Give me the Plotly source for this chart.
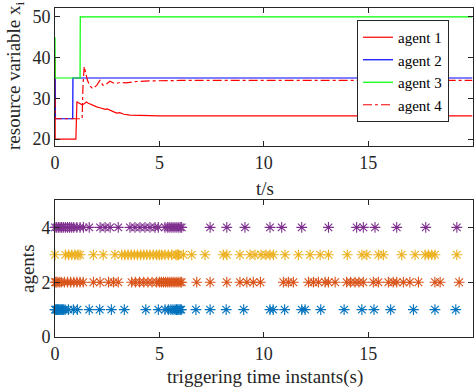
import plotly.graph_objects as go

# ---- top panel data (resource variables) ----
t_a1 = [0, 0.01, 1.0, 1.05, 1.1, 1.2, 1.3, 1.4, 1.5, 1.6, 1.8, 2.0, 2.15, 2.4, 2.5, 2.63, 2.8, 2.95, 3.1, 3.3, 3.6, 4.0, 5.0, 20]
v_a1 = [40, 20, 20, 29.2, 29.0, 28.6, 28.4, 28.7, 29.1, 28.8, 28.3, 27.9, 27.7, 27.3, 27.4, 27.1, 26.8, 26.4, 26.5, 26.1, 25.9, 25.8, 25.7, 25.7]

t_a2 = [0, 0.01, 0.85, 0.86, 20]
v_a2 = [35, 25, 25, 35, 35]

t_a3 = [0, 0.01, 1.2, 1.21, 20]
v_a3 = [45, 35, 35, 50, 50]

t_a4 = [0, 0.01, 1.3, 1.34, 1.4, 1.45, 1.55, 1.66, 1.8, 2.0, 2.15, 2.3, 2.45, 2.63, 2.87, 3.1, 3.4, 3.8, 4.5, 6.0, 20]
v_a4 = [30, 25, 25, 33.0, 37.8, 36.5, 34.5, 33.2, 32.4, 33.2, 34.4, 33.2, 33.5, 34.2, 33.6, 33.9, 33.8, 34.1, 34.3, 34.4, 34.4]

# ---- bottom panel data (triggering instants) ----
e_a1 = [0, 0.04, 0.08, 0.12, 0.16, 0.2, 0.25, 0.3, 0.35, 0.4, 0.48, 0.64, 0.88, 1.07, 1.64, 2.14, 2.7, 3.32,
        4.35, 4.95, 5.27, 5.43, 5.55, 5.65, 5.75, 5.82, 5.88, 5.94, 6.0, 6.05, 6.75, 7.43, 8.2, 9.04,
        10.3, 10.45, 11.0, 11.82, 11.98, 12.73, 13.85, 14.7, 15.28, 16.08, 17.17, 18.2, 19.2]
e_a2 = [0, 0.05, 0.1, 0.2, 0.3, 0.45, 0.6, 0.75, 0.9, 1.05, 1.2, 1.35, 1.84, 2.16, 2.56, 2.8, 3.03,
        3.67, 3.85, 4.05, 4.25, 4.45, 4.65, 4.87, 5.0, 5.1, 5.2, 5.3, 5.4, 5.5, 5.6, 5.7, 5.8, 5.9, 6.0, 6.07,
        6.79, 7.43, 8.23, 8.86, 9.19, 9.5, 9.84, 10.94, 11.18, 11.42, 12.14, 12.38, 12.62, 12.94, 13.1, 13.42,
        13.97, 14.16, 14.37, 14.56, 14.77, 15.25, 15.49, 15.97, 16.2, 16.37, 16.69, 17.0, 17.41, 18.2, 18.45, 19.36]
e_a3 = [0, 0.5, 0.65, 0.8, 0.95, 1.1, 1.2, 1.84, 2.31, 2.87, 3.2, 3.35, 3.5, 3.65, 3.8, 3.95, 4.1, 4.25,
        4.4, 4.55, 4.7, 4.87, 5.0, 5.11, 5.27, 5.43, 5.59, 5.8, 5.86, 5.92, 6.15, 6.55, 7.19, 8.06, 8.23,
        8.86, 9.34, 9.58, 9.87, 10.1, 10.3, 10.46, 11.02, 11.66, 12.22, 12.7, 13.1, 14.0, 14.7, 14.94,
        15.49, 15.73, 16.61, 17.25, 17.73, 17.89, 18.05, 18.2, 19.25]
e_a4 = [0, 0.08, 0.16, 0.24, 0.32, 0.4, 0.5, 0.6, 0.7, 0.8, 0.9, 1.05, 1.2, 1.36, 1.64, 2.16, 2.4, 2.64,
        3.03, 3.59, 3.83, 4.07, 4.31, 4.55, 4.79, 4.95, 5.27, 5.4, 5.5, 5.6, 5.7, 5.8, 5.9, 6.0, 6.07,
        7.43, 8.23, 9.1, 10.3, 10.86, 11.82, 13.1, 14.45, 14.77, 15.33, 16.37, 17.76, 19.25]

agent_names = ["agent 1", "agent 2", "agent 3", "agent 4"]
agent_levels = [1, 2, 3, 4]
x_ticks = [0, 5, 10, 15]
y_ticks_top = [20, 30, 40, 50]
y_ticks_bottom = [0, 2, 4]

FONT = "Liberation Serif, Times New Roman, DejaVu Serif, serif"
W, H = 474, 389

fig = go.Figure()

line_specs = [
    (t_a1, v_a1, "#FF0000", "solid"),
    (t_a2, v_a2, "#0000FF", "solid"),
    (t_a3, v_a3, "#00FF00", "solid"),
    (t_a4, v_a4, "#FF0000", "dashdot"),
]
for name, (tt, vv, col, dash) in zip(agent_names, line_specs):
    fig.add_trace(go.Scatter(x=tt, y=vv, mode="lines", name=name,
                             line=dict(color=col, width=1.2, dash=dash),
                             xaxis="x", yaxis="y"))

ev_colors = ["#0072BD", "#D95319", "#EDB120", "#7E2F8E"]
for lev, ev, col in zip(agent_levels, [e_a1, e_a2, e_a3, e_a4], ev_colors):
    fig.add_trace(go.Scatter(x=ev, y=[lev] * len(ev), mode="markers", showlegend=False,
                             marker=dict(symbol="asterisk-open", size=9, color=col,
                                         line=dict(color=col, width=1.1)),
                             cliponaxis=False, xaxis="x2", yaxis="y2"))

axis_common = dict(showline=True, linecolor="#262626", linewidth=1, mirror="ticks",
                   ticks="inside", ticklen=5, tickcolor="#262626", showgrid=False,
                   zeroline=False, automargin=False,
                   tickfont=dict(family=FONT, size=18, color="#262626"))

x0, x1 = 55 / W, 472.5 / W
fig.update_layout(
    width=W, height=H,
    margin=dict(l=0, r=0, t=0, b=0, autoexpand=False),
    paper_bgcolor="white", plot_bgcolor="white",
    font=dict(family=FONT, size=17, color="#262626"),
    xaxis=dict(domain=[x0, x1], range=[0, 20], tickvals=x_ticks, anchor="y", **axis_common),
    yaxis=dict(domain=[1 - 146 / H, 1 - 8 / H], range=[18.3, 52.2], tickvals=y_ticks_top,
               anchor="x", **axis_common),
    xaxis2=dict(domain=[x0, x1], range=[0, 20], tickvals=x_ticks, anchor="y2", **axis_common),
    yaxis2=dict(domain=[1 - 337 / H, 1 - 200 / H], range=[0, 5], tickvals=y_ticks_bottom,
                anchor="x2", **axis_common),
    legend=dict(x=357 / W, y=1 - 20 / H, xanchor="left", yanchor="top",
                bgcolor="white", bordercolor="#262626", borderwidth=1,
                font=dict(family=FONT, size=15, color="black"), tracegroupgap=0,
                itemwidth=30),
    showlegend=True,
)

ann_font = dict(family=FONT, size=19, color="#262626")
fig.add_annotation(text="t/s", x=265 / W, y=1 - 188 / H, xref="paper", yref="paper",
                   showarrow=False, font=ann_font, xanchor="center", yanchor="middle")
fig.add_annotation(text="triggering time instants(s)", x=265 / W, y=1 - 377 / H,
                   xref="paper", yref="paper", showarrow=False, font=ann_font,
                   xanchor="center", yanchor="middle")
fig.add_annotation(text="resource variable x<sub>i</sub>", x=15 / W, y=1 - 76 / H,
                   xref="paper", yref="paper", showarrow=False, font=ann_font, textangle=-90,
                   xanchor="center", yanchor="middle")
fig.add_annotation(text="agents", x=27 / W, y=1 - 269 / H, xref="paper", yref="paper",
                   showarrow=False, font=ann_font, textangle=-90,
                   xanchor="center", yanchor="middle")

fig.write_html("out.html", config={"displayModeBar": False},
               post_script="document.body.style.margin='0';document.body.style.overflow='hidden';")
